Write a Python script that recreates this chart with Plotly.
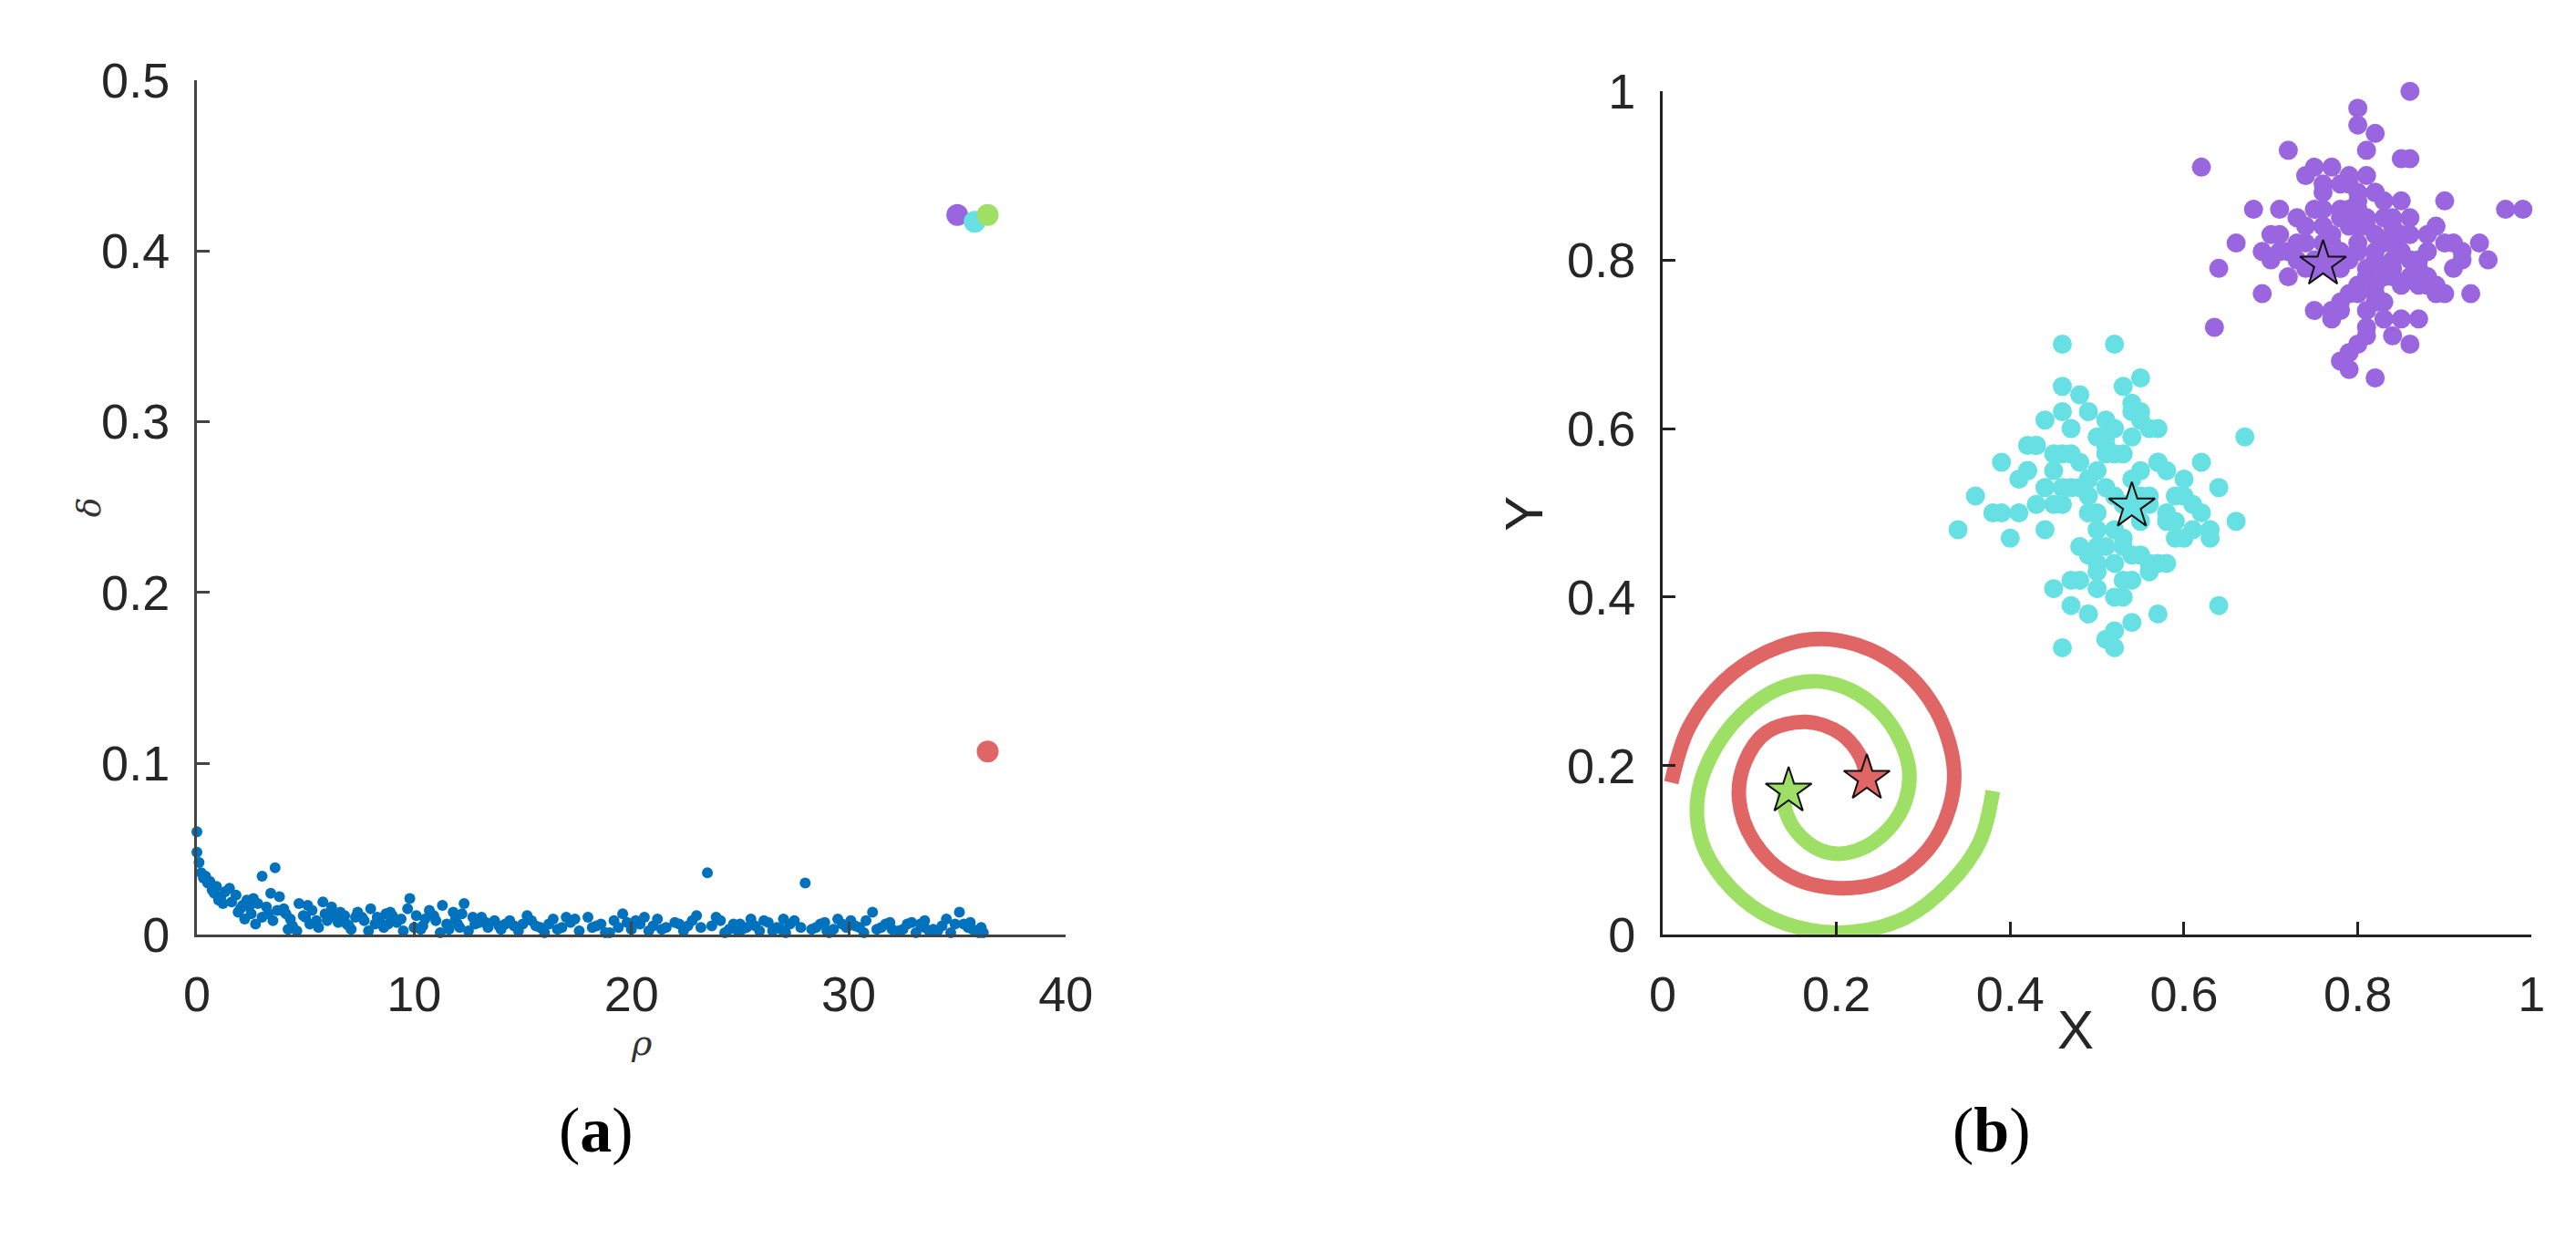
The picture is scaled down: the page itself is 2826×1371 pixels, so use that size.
import plotly.graph_objects as go

# ---- panel (a): decision graph ----
rho = [0.0, 0.1, 0.2, 0.3, 0.5, 0.7, 0.9, 1.1, 1.3, 1.6, 1.8, 2.0, 2.3, 2.5, 2.8, 3.0, 3.0, 3.6,
       3.2, 3.5, 3.8, 4.1, 4.4, 4.7, 5.0, 5.3, 5.6, 5.9, 6.2, 6.5, 6.8, 7.1, 7.4, 7.7, 8.0, 3.4, 4.6, 5.8, 6.9, 7.9,
       8.3, 8.6, 8.9, 9.2, 9.5, 9.8, 10.1, 10.4, 10.7, 11.0, 11.3, 11.6, 11.9, 12.2, 12.5, 12.8, 13.1, 13.4, 13.7, 14.0, 9.7, 11.2, 12.3,
       14.4, 14.8, 15.2, 15.6, 16.0, 16.4, 16.8, 17.2, 17.6, 18.0, 18.4, 18.8, 19.2, 19.6, 20.0, 20.4, 20.8, 21.2, 21.6, 22.0, 15.0, 17.0, 19.0, 21.0,
       22.4, 22.8, 23.2, 23.5, 23.9, 24.3, 24.7, 25.1, 25.5, 25.9, 26.3, 26.7, 27.1, 27.5, 28.0, 28.3, 28.7, 29.1, 29.5, 29.9, 23.0, 25.0, 27.0, 29.0,
       30.3, 30.7, 31.1, 31.5, 31.9, 32.3, 32.7, 33.1, 33.5, 33.9, 34.3, 34.7, 35.1, 35.5, 35.9, 36.2, 30.8, 32.0, 33.3, 34.5, 35.6, 36.0,
       0.0, 0.6, 1.5, 2.1, 2.6, 3.9, 4.3, 5.1, 6.0, 6.6, 7.3, 8.8, 9.0, 10.5, 11.8, 13.0, 14.6, 16.2, 18.2, 20.2, 22.6, 24.5, 26.5, 28.5, 31.3, 33.7, 35.3,
       0.4, 0.8, 1.2, 1.9, 2.2, 2.7, 3.3, 3.7, 4.2, 4.9, 5.5, 6.3, 7.0, 7.6, 8.2, 8.7, 9.4, 10.0, 10.9, 11.5, 12.1, 12.7, 13.3, 13.9,
       14.2, 15.4, 16.6, 17.4, 18.6, 19.4, 20.6, 21.4, 22.2, 23.7, 24.1, 24.9, 25.7, 26.1, 26.9, 27.3, 27.8, 28.9, 29.3, 30.1, 30.5,
       31.7, 32.5, 32.9, 33.5, 34.1, 34.9, 35.7, 36.1, 1.0, 2.4, 4.0, 5.2, 6.4, 8.4, 10.3, 12.0, 15.8, 19.8, 25.3, 29.7, 34.0]
delta = [0.048, 0.042, 0.036, 0.033, 0.030, 0.026, 0.028, 0.022, 0.025, 0.019, 0.023, 0.015, 0.020, 0.012, 0.018, 0.034, 0.010, 0.039,
         0.016, 0.008, 0.022, 0.012, 0.005, 0.018, 0.010, 0.014, 0.004, 0.012, 0.016, 0.007, 0.011, 0.003, 0.013, 0.008, 0.015, 0.024, 0.002, 0.019, 0.006, 0.002,
         0.010, 0.004, 0.013, 0.007, 0.002, 0.021, 0.011, 0.005, 0.014, 0.008, 0.017, 0.003, 0.009, 0.012, 0.002, 0.006, 0.010, 0.004, 0.008, 0.003, 0.015, 0.001, 0.018,
         0.008, 0.002, 0.011, 0.005, 0.001, 0.009, 0.004, 0.007, 0.002, 0.010, 0.005, 0.001, 0.008, 0.012, 0.003, 0.006, 0.002, 0.009, 0.004, 0.007, 0.006, 0.010, 0.001, 0.005,
         0.002, 0.008, 0.004, 0.036, 0.010, 0.001, 0.006, 0.003, 0.009, 0.002, 0.007, 0.004, 0.001, 0.008, 0.030, 0.003, 0.006, 0.001, 0.009, 0.004, 0.011, 0.006, 0.009, 0.002,
         0.005, 0.001, 0.013, 0.004, 0.007, 0.002, 0.006, 0.001, 0.008, 0.003, 0.005, 0.001, 0.013, 0.004, 0.002, 0.001, 0.008, 0.003, 0.006, 0.009, 0.007, 0.001,
         0.060, 0.031, 0.027, 0.017, 0.021, 0.014, 0.009, 0.017, 0.008, 0.013, 0.010, 0.006, 0.011, 0.009, 0.013, 0.007, 0.005, 0.006, 0.004, 0.008, 0.005, 0.003, 0.002, 0.004, 0.003, 0.002, 0.006,
         0.034, 0.024, 0.018, 0.013, 0.009, 0.006, 0.012, 0.014, 0.003, 0.011, 0.008, 0.013, 0.005, 0.010, 0.006, 0.012, 0.009, 0.004, 0.011, 0.006, 0.004, 0.010, 0.007, 0.005,
         0.006, 0.008, 0.003, 0.009, 0.006, 0.004, 0.010, 0.003, 0.006, 0.005, 0.008, 0.002, 0.005, 0.008, 0.003, 0.006, 0.004, 0.007, 0.003, 0.008, 0.004,
         0.006, 0.003, 0.007, 0.004, 0.002, 0.006, 0.003, 0.004, 0.020, 0.016, 0.015, 0.006, 0.010, 0.008, 0.003, 0.006, 0.004, 0.007, 0.004, 0.006, 0.002]

center_rho = [35.0, 35.8, 36.4, 36.4]
center_delta = [0.421, 0.417, 0.421, 0.107]

# ---- panel (b): clustering result ----
purple_x = [0.80, 0.82, 0.78, 0.84, 0.76, 0.81, 0.79, 0.83, 0.85, 0.77, 0.80, 0.82, 0.74, 0.86, 0.81, 0.79, 0.75, 0.88, 0.83, 0.78,
            0.80, 0.84, 0.72, 0.87, 0.79, 0.81, 0.76, 0.85, 0.82, 0.78, 0.90, 0.70, 0.83, 0.77, 0.86, 0.80, 0.73, 0.89, 0.81, 0.79,
            0.84, 0.76, 0.82, 0.78, 0.87, 0.75, 0.80, 0.83, 0.71, 0.91, 0.93, 0.68, 0.86, 0.77, 0.79, 0.84, 0.74, 0.88, 0.82, 0.80,
            0.95, 0.66, 0.81, 0.85, 0.72, 0.89, 0.78, 0.76, 0.83, 0.87, 0.97, 0.64, 0.80, 0.69, 0.92, 0.75, 0.86, 0.79, 0.82, 0.84,
            0.73, 0.90, 0.77, 0.81, 0.85, 0.71, 0.88, 0.78, 0.83, 0.80, 0.86, 0.62, 0.99, 0.635, 0.82, 0.80, 0.84, 0.78, 0.81, 0.83,
            0.79, 0.81, 0.83, 0.85, 0.77, 0.80, 0.82, 0.84, 0.86, 0.78, 0.80, 0.82, 0.76, 0.74, 0.88, 0.87, 0.73, 0.75, 0.89, 0.91,
            0.70, 0.72, 0.92, 0.94, 0.69, 0.77, 0.83, 0.79, 0.85, 0.81, 0.76, 0.84, 0.78, 0.86, 0.80, 0.82, 0.74, 0.88, 0.71, 0.90]
purple_y = [0.81, 0.83, 0.79, 0.80, 0.84, 0.78, 0.86, 0.82, 0.77, 0.81, 0.88, 0.75, 0.82, 0.85, 0.79, 0.76, 0.80, 0.83, 0.87, 0.74,
            0.84, 0.78, 0.81, 0.79, 0.90, 0.72, 0.86, 0.83, 0.76, 0.89, 0.82, 0.80, 0.73, 0.91, 0.78, 0.70, 0.85, 0.77, 0.93, 0.84,
            0.71, 0.88, 0.95, 0.68, 0.80, 0.74, 0.87, 0.79, 0.83, 0.82, 0.76, 0.86, 0.92, 0.73, 0.69, 0.84, 0.90, 0.78, 0.66, 0.96,
            0.80, 0.82, 0.71, 0.87, 0.93, 0.76, 0.75, 0.89, 0.85, 0.73, 0.86, 0.79, 0.98, 0.76, 0.81, 0.91, 0.70, 0.67, 0.88, 0.85,
            0.80, 0.87, 0.83, 0.74, 0.92, 0.81, 0.77, 0.86, 0.78, 0.82, 1.00, 0.91, 0.86, 0.72, 0.80, 0.84, 0.82, 0.81, 0.85, 0.79,
            0.80, 0.84, 0.78, 0.81, 0.82, 0.86, 0.77, 0.83, 0.80, 0.79, 0.76, 0.88, 0.84, 0.79, 0.81, 0.77, 0.82, 0.86, 0.84, 0.79,
            0.83, 0.78, 0.80, 0.82, 0.81, 0.74, 0.75, 0.89, 0.73, 0.90, 0.82, 0.79, 0.85, 0.83, 0.77, 0.81, 0.84, 0.78, 0.86, 0.76]

cyan_x = [0.52, 0.50, 0.55, 0.48, 0.53, 0.57, 0.46, 0.51, 0.54, 0.49, 0.58, 0.44, 0.52, 0.56, 0.47, 0.50, 0.60, 0.42, 0.53, 0.55,
          0.48, 0.51, 0.45, 0.59, 0.54, 0.49, 0.62, 0.40, 0.52, 0.57, 0.46, 0.50, 0.56, 0.43, 0.53, 0.61, 0.47, 0.55, 0.38, 0.64,
          0.51, 0.49, 0.58, 0.44, 0.52, 0.36, 0.66, 0.54, 0.48, 0.50, 0.57, 0.45, 0.53, 0.60, 0.41, 0.51, 0.55, 0.47, 0.63, 0.39,
          0.52, 0.50, 0.56, 0.46, 0.59, 0.43, 0.54, 0.49, 0.61, 0.42, 0.46, 0.52, 0.64, 0.67, 0.34, 0.46, 0.53, 0.51, 0.55, 0.49,
          0.50, 0.52, 0.54, 0.48, 0.56, 0.47, 0.51, 0.53, 0.49, 0.55, 0.45, 0.58, 0.43, 0.57, 0.50, 0.52, 0.46, 0.54, 0.60, 0.44,
          0.48, 0.56, 0.51, 0.53, 0.41, 0.62, 0.47, 0.59, 0.50, 0.55, 0.45, 0.52, 0.57, 0.49, 0.39, 0.63, 0.42, 0.58, 0.46, 0.54]
cyan_y = [0.52, 0.55, 0.49, 0.53, 0.47, 0.56, 0.51, 0.58, 0.45, 0.54, 0.50, 0.53, 0.60, 0.44, 0.57, 0.48, 0.52, 0.55, 0.42, 0.61,
          0.46, 0.59, 0.51, 0.49, 0.63, 0.54, 0.50, 0.47, 0.40, 0.56, 0.62, 0.43, 0.52, 0.58, 0.65, 0.48, 0.39, 0.55, 0.50, 0.53,
          0.57, 0.45, 0.44, 0.61, 0.36, 0.52, 0.49, 0.59, 0.64, 0.41, 0.38, 0.57, 0.46, 0.54, 0.50, 0.35, 0.66, 0.42, 0.48, 0.56,
          0.70, 0.44, 0.60, 0.53, 0.47, 0.58, 0.37, 0.62, 0.51, 0.55, 0.34, 0.34, 0.39, 0.59, 0.48, 0.70, 0.51, 0.53, 0.52, 0.50,
          0.50, 0.48, 0.54, 0.56, 0.51, 0.53, 0.46, 0.57, 0.52, 0.45, 0.55, 0.49, 0.51, 0.60, 0.59, 0.44, 0.57, 0.62, 0.47, 0.48,
          0.42, 0.43, 0.61, 0.40, 0.54, 0.56, 0.60, 0.52, 0.46, 0.62, 0.41, 0.57, 0.44, 0.38, 0.50, 0.47, 0.58, 0.55, 0.65, 0.42]

red_x = [0.010, 0.030, 0.070, 0.120, 0.170, 0.225, 0.275, 0.315, 0.335, 0.330, 0.305, 0.260, 0.200, 0.145, 0.105, 0.088,
         0.095, 0.120, 0.165, 0.205, 0.228, 0.235]
red_y = [0.180, 0.245, 0.300, 0.335, 0.350, 0.343, 0.315, 0.265, 0.200, 0.150, 0.100, 0.065, 0.055, 0.070, 0.110, 0.160,
         0.205, 0.240, 0.252, 0.238, 0.210, 0.185]
green_x = [0.380, 0.365, 0.330, 0.280, 0.220, 0.170, 0.115, 0.070, 0.045, 0.040, 0.055, 0.090, 0.135, 0.180, 0.225, 0.262,
           0.283, 0.280, 0.260, 0.225, 0.190, 0.160, 0.142, 0.140]
green_y = [0.170, 0.110, 0.060, 0.020, 0.003, 0.005, 0.025, 0.065, 0.110, 0.160, 0.210, 0.260, 0.292, 0.300, 0.285, 0.250,
           0.200, 0.160, 0.125, 0.100, 0.097, 0.115, 0.145, 0.170]

star_x = [0.76, 0.54, 0.235, 0.145]
star_y = [0.795, 0.508, 0.185, 0.170]

BLUE = "#0072BD"
PURPLE = "#9966E0"
CYAN = "#66E0E3"
GREEN = "#9EE066"
RED = "#E06666"
cluster_colors = [PURPLE, CYAN, GREEN, RED]

fig = go.Figure()

fig.add_trace(go.Scatter(x=rho, y=delta, mode="markers", xaxis="x", yaxis="y",
                         marker=dict(color=BLUE, size=12), cliponaxis=False))
fig.add_trace(go.Scatter(x=center_rho, y=center_delta, mode="markers", xaxis="x", yaxis="y",
                         marker=dict(color=cluster_colors, size=24), cliponaxis=False))

fig.add_trace(go.Scatter(x=purple_x, y=purple_y, mode="markers", xaxis="x2", yaxis="y2",
                         marker=dict(color=PURPLE, size=21), cliponaxis=False))
fig.add_trace(go.Scatter(x=cyan_x, y=cyan_y, mode="markers", xaxis="x2", yaxis="y2",
                         marker=dict(color=CYAN, size=21), cliponaxis=False))
fig.add_trace(go.Scatter(x=red_x, y=red_y, mode="lines", xaxis="x2", yaxis="y2",
                         line=dict(color=RED, width=16, shape="spline"), cliponaxis=False))
fig.add_trace(go.Scatter(x=green_x, y=green_y, mode="lines", xaxis="x2", yaxis="y2",
                         line=dict(color=GREEN, width=16, shape="spline"), cliponaxis=False))
fig.add_trace(go.Scatter(x=star_x, y=star_y, mode="markers", xaxis="x2", yaxis="y2",
                         marker=dict(symbol="star", size=38, color=[PURPLE, CYAN, RED, GREEN],
                                     line=dict(color="#111111", width=2)), cliponaxis=False))

tick_font = dict(family="Liberation Sans, Arial", size=54, color="#262626")
axis_common = dict(showline=True, linewidth=3, ticks="inside", ticklen=14, tickwidth=3,
                   showgrid=False, zeroline=False, mirror=False, tickfont=tick_font,
                   ticklabelstandoff=16)

fig.update_layout(
    width=2826, height=1371, showlegend=False,
    paper_bgcolor="white", plot_bgcolor="white",
    margin=dict(l=0, r=0, t=0, b=0),
    xaxis=dict(domain=[0.0694, 0.4122], range=[0, 40], tickvals=[0, 10, 20, 30, 40],
               linecolor="#444444", tickcolor="#444444", anchor="y", **axis_common),
    yaxis=dict(domain=[0.2473, 0.9621], range=[0, 0.5], tickvals=[0, 0.1, 0.2, 0.3, 0.4, 0.5],
               linecolor="#444444", tickcolor="#444444", anchor="x", **axis_common),
    xaxis2=dict(domain=[0.6476, 0.9904], range=[0, 1], tickvals=[0, 0.2, 0.4, 0.6, 0.8, 1],
                linecolor="#222222", tickcolor="#222222", anchor="y2", **axis_common),
    yaxis2=dict(domain=[0.2473, 0.9526], range=[0, 1], tickvals=[0, 0.2, 0.4, 0.6, 0.8, 1],
                linecolor="#222222", tickcolor="#222222", anchor="x2", **axis_common),
)

label = dict(xref="paper", yref="paper", showarrow=False)
fig.add_annotation(text="<i>δ</i>", x=0.019, y=0.605, textangle=-90,
                   font=dict(family="DejaVu Serif", size=36, color="#333333"), **label)
fig.add_annotation(text="<i>ρ</i>", x=0.240, y=0.138,
                   font=dict(family="DejaVu Serif", size=38, color="#333333"), **label)
fig.add_annotation(text="Y", x=0.593, y=0.599, textangle=-90,
                   font=dict(family="Liberation Sans, Arial", size=58, color="#262626"), **label)
fig.add_annotation(text="X", x=0.8185, y=0.140,
                   font=dict(family="Liberation Sans, Arial", size=60, color="#262626"), **label)
fig.add_annotation(text="(<b>a</b>)", x=0.2116, y=0.0525,
                   font=dict(family="Liberation Serif", size=70, color="black"), **label)
fig.add_annotation(text="(<b>b</b>)", x=0.7937, y=0.0525,
                   font=dict(family="Liberation Serif", size=70, color="black"), **label)

fig.write_html("out.html")
